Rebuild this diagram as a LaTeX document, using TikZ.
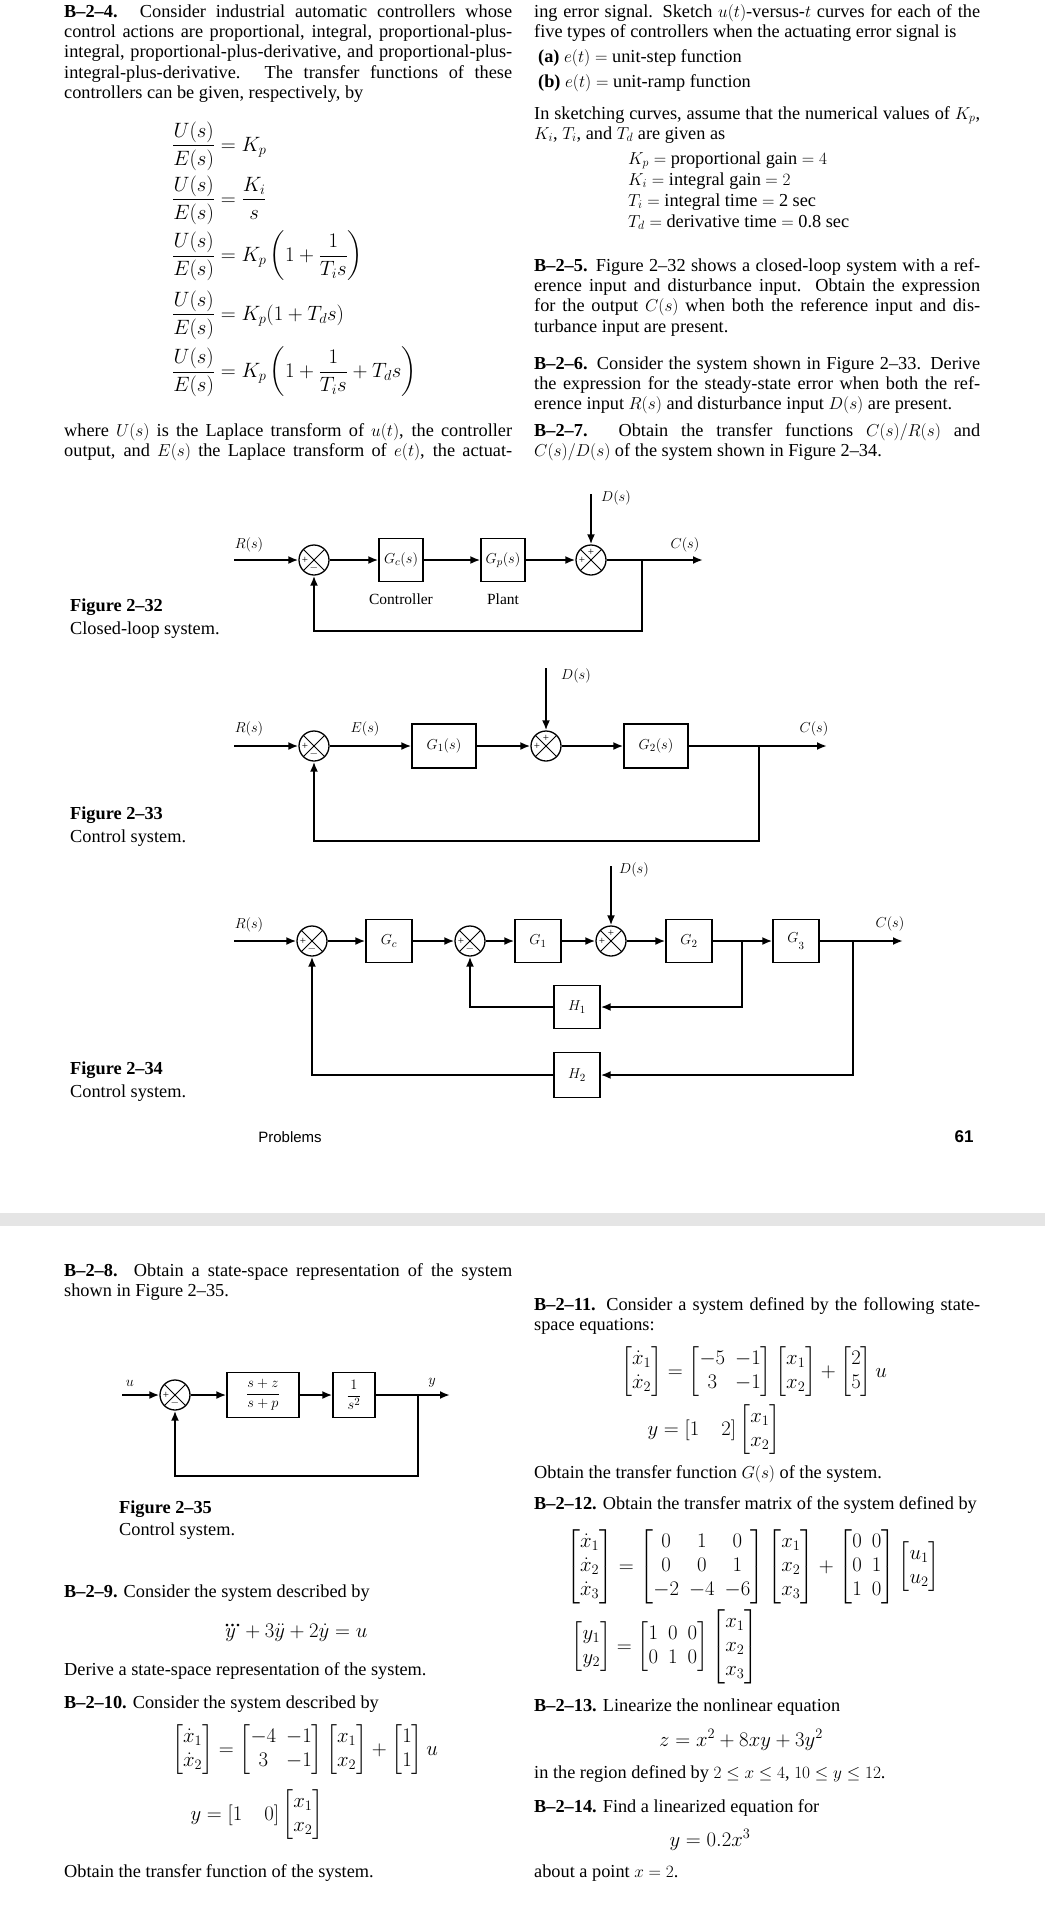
\documentclass[tikz,border=0pt]{standalone}
\usepackage{amsmath}
\usepackage{fontspec}
\setmainfont{Liberation Serif}
\setsansfont{Liberation Sans}
\usetikzlibrary{arrows.meta,calc}
\begin{document}
\begin{tikzpicture}[x=1pt,y=-1pt,
  txt/.style={inner sep=0, anchor=base west, font=\fontsize{18.3}{20.4}\selectfont},
  eqn/.style={inner sep=0, font=\fontsize{22}{24}\selectfont},
  eqs/.style={inner sep=0, anchor=west, font=\fontsize{20}{22}\selectfont},
  dl/.style={inner sep=0, font=\fontsize{15.5}{16}\selectfont},
  blk/.style={draw, line width=1.3pt, inner sep=0, minimum width=46pt, minimum height=43pt, font=\fontsize{15.5}{16}\selectfont},
  sig/.style={line width=2.3pt, -{Latex[length=10pt,width=8pt]}},
  sumj/.style={circle, draw, line width=1.3pt, minimum size=30pt, inner sep=0,
    path picture={\draw[line width=1pt] (path picture bounding box.north west)--(path picture bounding box.south east)
      (path picture bounding box.north east)--(path picture bounding box.south west);}},
  sgn/.style={inner sep=0, font=\fontsize{11}{11}\selectfont}]
\useasboundingbox (0,0) rectangle (1045,1920);
\fill[white] (0,0) rectangle (1045,1920);
\fill[gray!20] (0,1213) rectangle (1045,1226);

% ---------- page 1, left column
\node[txt] (p1) at (64,17) {\parbox[t]{448pt}{\baselineskip=20.4pt
\textbf{B–2–4.} Consider industrial automatic controllers whose\linebreak
control actions are proportional, integral, proportional-plus-\linebreak
integral, proportional-plus-derivative, and proportional-plus-\linebreak
integral-plus-derivative. The transfer functions of these\linebreak
controllers can be given, respectively, by}};
\node[eqs] (e1) at (172,146) {$\displaystyle \frac{U(s)}{E(s)} = K_p$};
\node[eqs] (e2) at (172,200) {$\displaystyle \frac{U(s)}{E(s)} = \frac{K_i}{s}$};
\node[eqs] (e3) at (172,256) {$\displaystyle \frac{U(s)}{E(s)} = K_p\left(1 + \frac{1}{T_is}\right)$};
\node[eqs] (e4) at (172,315) {$\displaystyle \frac{U(s)}{E(s)} = K_p(1 + T_ds)$};
\node[eqs] (e5) at (172,372) {$\displaystyle \frac{U(s)}{E(s)} = K_p\left(1 + \frac{1}{T_is} + T_ds\right)$};
\node[txt] (p2) at (64,436) {\parbox[t]{448pt}{\baselineskip=20.4pt\parfillskip=0pt
where $U(s)$ is the Laplace transform of $u(t)$, the controller\linebreak
output, and $E(s)$ the Laplace transform of $e(t)$, the actuat-}};

% ---------- page 1, right column
\node[txt] (r1) at (534,17) {\parbox[t]{446pt}{\baselineskip=20.4pt
ing error signal. Sketch $u(t)$-versus-$t$ curves for each of the\linebreak
five types of controllers when the actuating error signal is}};
\node[txt] (ra) at (538,62) {\textbf{(a)} $e(t) =$ unit-step function};
\node[txt] (rb) at (538,87) {\textbf{(b)} $e(t) =$ unit-ramp function};
\node[txt] (r2) at (534,119) {\parbox[t]{446pt}{\baselineskip=20.4pt
In sketching curves, assume that the numerical values of $K_p$,\linebreak
$K_i$, $T_i$, and $T_d$ are given as}};
\node[txt] (g1) at (628,164) {$K_p = $ proportional gain $= 4$};
\node[txt] (g2) at (628,185) {$K_i = $ integral gain $= 2$};
\node[txt] (g3) at (628,206) {$T_i = $ integral time $=$ 2 sec};
\node[txt] (g4) at (628,227) {$T_d = $ derivative time $=$ 0.8 sec};
\node[txt] (r3) at (534,271) {\parbox[t]{446pt}{\baselineskip=20.4pt
\textbf{B–2–5.} Figure 2–32 shows a closed-loop system with a ref-\linebreak
erence input and disturbance input. Obtain the expression\linebreak
for the output $C(s)$ when both the reference input and dis-\linebreak
turbance input are present.}};
\node[txt] (r4) at (534,369) {\parbox[t]{446pt}{\baselineskip=20.4pt
\textbf{B–2–6.} Consider the system shown in Figure 2–33. Derive\linebreak
the expression for the steady-state error when both the ref-\linebreak
erence input $R(s)$ and disturbance input $D(s)$ are present.}};
\node[txt] (r5) at (534,436) {\parbox[t]{446pt}{\baselineskip=20.4pt
\textbf{B–2–7.} Obtain the transfer functions $C(s)/R(s)$ and\linebreak
$C(s)/D(s)$ of the system shown in Figure 2–34.}};

% ---------- Figure 2-32
\node[sumj] (a1) at (314,560) {};
\node[blk, minimum width=44pt] (a2) at (401,560) {$G_c(s)$};
\node[blk, minimum width=44pt] (a3) at (503,560) {$G_p(s)$};
\node[sumj] (a4) at (591,560) {};
\coordinate (a0) at (234,560);
\coordinate (ab) at (642,560);
\coordinate (aout) at (703,560);
\coordinate (ad) at (591,494);
\coordinate (af) at (642,631);
\draw[sig] (a0) -- (a1);
\draw[sig] (a1) -- (a2);
\draw[sig] (a2) -- (a3);
\draw[sig] (a3) -- (a4);
\draw[sig] (a4) -- (aout);
\draw[sig] (ad) -- (a4);
\draw[sig] (ab) -- (af) -| (a1.south);
\node[sgn] at ($(a1)+(-9,0)$) {+};
\node[sgn] at ($(a1)+(0,8)$) {$-$};
\node[sgn] at ($(a4)+(-9,0)$) {+};
\node[sgn] at ($(a4)+(0,-8)$) {+};
\node[dl] (la1) at (249,545) {$R(s)$};
\node[dl] (la2) at (685,545) {$C(s)$};
\node[dl] (la3) at (616,498) {$D(s)$};
\node[dl] (la4) at (401,599) {Controller};
\node[dl] (la5) at (503,599) {Plant};
\node[txt] (ca1) at (70,611) {\textbf{Figure 2–32}};
\node[txt] (ca2) at (70,634) {Closed-loop system.};

% ---------- Figure 2-33
\node[sumj] (b1) at (314,746) {};
\node[blk, minimum width=64pt, minimum height=44pt] (b2) at (444,746) {$G_1(s)$};
\node[sumj] (b3) at (546,746) {};
\node[blk, minimum width=64pt, minimum height=44pt] (b4) at (656,746) {$G_2(s)$};
\coordinate (b0) at (234,746);
\coordinate (bb) at (759,746);
\coordinate (bout) at (827,746);
\coordinate (bd) at (546,668);
\coordinate (bf) at (759,841);
\draw[sig] (b0) -- (b1);
\draw[sig] (b1) -- (b2);
\draw[sig] (b2) -- (b3);
\draw[sig] (b3) -- (b4);
\draw[sig] (b4) -- (bout);
\draw[sig] (bd) -- (b3);
\draw[sig] (bb) -- (bf) -| (b1.south);
\node[sgn] at ($(b1)+(-9,0)$) {+};
\node[sgn] at ($(b1)+(0,8)$) {$-$};
\node[sgn] at ($(b3)+(-9,0)$) {+};
\node[sgn] at ($(b3)+(0,-8)$) {+};
\node[dl] (lb1) at (249,729) {$R(s)$};
\node[dl] (lb2) at (365,729) {$E(s)$};
\node[dl] (lb3) at (576,676) {$D(s)$};
\node[dl] (lb4) at (814,729) {$C(s)$};
\node[txt] (cb1) at (70,819) {\textbf{Figure 2–33}};
\node[txt] (cb2) at (70,842) {Control system.};

% ---------- Figure 2-34
\node[sumj] (c1) at (312,941) {};
\node[blk] (c2) at (389,941) {$G_c$};
\node[sumj] (c3) at (470,941) {};
\node[blk] (c4) at (538,941) {$G_1$};
\node[sumj] (c5) at (611,941) {};
\node[blk] (c6) at (689,941) {$G_2$};
\node[blk] (c7) at (796,941) {$G_{\lower5pt\hbox{$\scriptstyle 3$}}$};
\node[blk] (h1) at (577,1007) {$H_1$};
\node[blk, minimum height=45pt] (h2) at (577,1075) {$H_2$};
\coordinate (c0) at (234,941);
\coordinate (cb1p) at (742,941);
\coordinate (cb2p) at (853,941);
\coordinate (cout) at (903,941);
\coordinate (cd) at (611,866);
\draw[sig] (c0) -- (c1);
\draw[sig] (c1) -- (c2);
\draw[sig] (c2) -- (c3);
\draw[sig] (c3) -- (c4);
\draw[sig] (c4) -- (c5);
\draw[sig] (c5) -- (c6);
\draw[sig] (c6) -- (c7);
\draw[sig] (c7) -- (cout);
\draw[sig] (cd) -- (c5);
\draw[sig] (cb1p) |- (h1.east);
\draw[sig] (h1.west) -| (c3.south);
\draw[sig] (cb2p) |- (h2.east);
\draw[sig] (h2.west) -| (c1.south);
\node[sgn] at ($(c1)+(-9,0)$) {+};
\node[sgn] at ($(c1)+(0,8)$) {$-$};
\node[sgn] at ($(c3)+(-9,0)$) {+};
\node[sgn] at ($(c3)+(0,8)$) {$-$};
\node[sgn] at ($(c5)+(-9,0)$) {+};
\node[sgn] at ($(c5)+(0,-8)$) {+};
\node[dl] (lc1) at (249,925) {$R(s)$};
\node[dl] (lc2) at (634,870) {$D(s)$};
\node[dl] (lc3) at (890,924) {$C(s)$};
\node[txt] (cc1) at (70,1074) {\textbf{Figure 2–34}};
\node[txt] (cc2) at (70,1097) {Control system.};

\node[inner sep=0, font=\sffamily\fontsize{15}{16}\selectfont] (pr) at (290,1137) {Problems};
\node[inner sep=0, font=\sffamily\bfseries\fontsize{17}{18}\selectfont] (pn) at (964,1137) {61};

% ---------- page 2, left
\node[txt] (q1) at (64,1276) {\parbox[t]{448pt}{\baselineskip=20.4pt
\textbf{B–2–8.} Obtain a state-space representation of the system\linebreak
shown in Figure 2–35.}};
\node[sumj] (d1) at (175,1395) {};
\node[blk, minimum width=72pt, minimum height=45pt] (d2) at (263,1395) {$\displaystyle\frac{s+z}{s+p}$};
\node[blk, minimum width=42pt, minimum height=45pt] (d3) at (354,1395) {$\displaystyle\frac{1}{s^2}$};
\coordinate (d0) at (122,1395);
\coordinate (db) at (418,1395);
\coordinate (dout) at (450,1395);
\coordinate (df) at (418,1476);
\draw[sig] (d0) -- (d1);
\draw[sig] (d1) -- (d2);
\draw[sig] (d2) -- (d3);
\draw[sig] (d3) -- (dout);
\draw[sig] (db) -- (df) -| (d1.south);
\node[sgn] at ($(d1)+(-9,0)$) {+};
\node[sgn] at ($(d1)+(0,8)$) {$-$};
\node[dl] (ld1) at (130,1383) {$u$};
\node[dl] (ld2) at (432,1383) {$y$};
\node[txt] (cd1) at (119,1513) {\textbf{Figure 2–35}};
\node[txt] (cd2) at (119,1535) {Control system.};
\node[txt] (q2) at (64,1597) {\textbf{B–2–9.} Consider the system described by};
\node[eqn] (q3) at (294,1633) {$\dddot{y} + 3\ddot{y} + 2\dot{y} = u$};
\node[txt] (q4) at (64,1675) {Derive a state-space representation of the system.};
\node[txt] (q5) at (64,1708) {\textbf{B–2–10.} Consider the system described by};
\node[eqn] (q6) at (305,1750) {$\begin{bmatrix}\dot x_1\\ \dot x_2\end{bmatrix} = \begin{bmatrix}-4&-1\\ 3&-1\end{bmatrix}\begin{bmatrix}x_1\\ x_2\end{bmatrix}+\begin{bmatrix}1\\ 1\end{bmatrix}u$};
\node[eqn] (q7) at (257,1815) {$y = [1\quad 0]\begin{bmatrix}x_1\\ x_2\end{bmatrix}$};
\node[txt] (q8) at (64,1877) {Obtain the transfer function of the system.};

% ---------- page 2, right
\node[txt] (s1) at (534,1310) {\parbox[t]{446pt}{\baselineskip=20.4pt
\textbf{B–2–11.} Consider a system defined by the following state-\linebreak
space equations:}};
\node[eqn] (s2) at (754,1372) {$\begin{bmatrix}\dot x_1\\ \dot x_2\end{bmatrix} = \begin{bmatrix}-5&-1\\ 3&-1\end{bmatrix}\begin{bmatrix}x_1\\ x_2\end{bmatrix}+\begin{bmatrix}2\\ 5\end{bmatrix}u$};
\node[eqn] (s3) at (714,1430) {$y = [1\quad 2]\begin{bmatrix}x_1\\ x_2\end{bmatrix}$};
\node[txt] (s4) at (534,1478) {Obtain the transfer function $G(s)$ of the system.};
\node[txt] (s5) at (534,1509) {\textbf{B–2–12.} Obtain the transfer matrix of the system defined by};
\node[eqn] (s6) at (753,1567) {$\begin{bmatrix}\dot x_1\\ \dot x_2\\ \dot x_3\end{bmatrix} = \begin{bmatrix}0&1&0\\ 0&0&1\\ -2&-4&-6\end{bmatrix}\begin{bmatrix}x_1\\ x_2\\ x_3\end{bmatrix}+\begin{bmatrix}0&0\\ 0&1\\ 1&0\end{bmatrix}\begin{bmatrix}u_1\\ u_2\end{bmatrix}$};
\node[eqn] (s7) at (665,1647) {$\begin{bmatrix}y_1\\ y_2\end{bmatrix} = \begin{bmatrix}1&0&0\\ 0&1&0\end{bmatrix}\begin{bmatrix}x_1\\ x_2\\ x_3\end{bmatrix}$};
\node[txt] (s8) at (534,1711) {\textbf{B–2–13.} Linearize the nonlinear equation};
\node[eqn] (s9) at (741,1740) {$z = x^2 + 8xy + 3y^2$};
\node[txt] (s10) at (534,1778) {in the region defined by $2 \le x \le 4$, $10 \le y \le 12$.};
\node[txt] (s11) at (534,1812) {\textbf{B–2–14.} Find a linearized equation for};
\node[eqn] (s12) at (710,1840) {$y = 0.2x^3$};
\node[txt] (s13) at (534,1877) {about a point $x = 2$.};
\end{tikzpicture}
\end{document}
